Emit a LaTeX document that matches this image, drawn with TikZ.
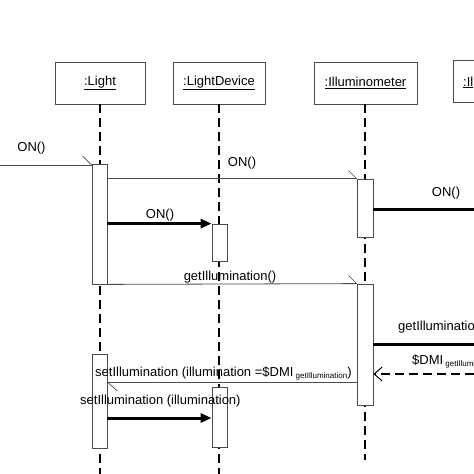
\documentclass[tikz,border=0pt]{standalone}
\usepackage{fontspec}
\setmainfont{Liberation Sans}
\usetikzlibrary{arrows.meta}
\begin{document}
\begin{tikzpicture}[x=1pt,y=-1pt,
  font=\fontsize{13}{15}\selectfont,
  obj/.style={draw=black!70,line width=0.8pt,minimum height=42pt,inner sep=0pt},
  bar/.style={draw=black!70,fill=white,line width=0.8pt,minimum width=15pt,inner sep=0pt},
  lifeline/.style={line width=2.4pt,dash pattern=on 9pt off 5pt},
  msg/.style={draw=black!70,line width=0.8pt},
  tick/.style={draw=black!70,line width=0.7pt},
  callmsg/.style={line width=3pt,-{Triangle[length=11pt,width=9pt]}},
  outmsg/.style={line width=3pt},
  ret/.style={line width=2.4pt,dash pattern=on 9pt off 5pt,-{Straight Barb[length=8pt,width=14pt,line width=1pt]}},
  lbl/.style={anchor=base,inner sep=0pt},
  lblw/.style={anchor=base west,inner sep=0pt},
  sub/.style={}
]
\useasboundingbox (0,0) rectangle (474,474);
\clip (0,0) rectangle (474,474);

% objects
\node[obj,minimum width=90pt] (light) at (100,83) {\underline{:Light}};
\node[obj,minimum width=92pt] (ldev) at (219,83) {\underline{:LightDevice}};
\node[obj,minimum width=103pt] (illum) at (365.5,83) {\underline{:Illuminometer}};
\node[obj,minimum width=90pt,anchor=north west] (obj4) at (453,60) {};
\node[lblw] (obj4t) at (463,86) {\underline{:Il}};

% lifeline ends
\coordinate (lightend) at (100,474);
\coordinate (ldevend) at (219,474);
\coordinate (illumend) at (365,460);
\draw[lifeline] (light.south -| lightend) -- (lightend);
\draw[lifeline] (ldev.south -| ldevend) -- (ldevend);
\draw[lifeline] (illum.south -| illumend) -- (illumend);

% activation bars
\node[bar,minimum height=120pt] (lb1) at (99.5,224) {};
\node[bar,minimum height=37pt] (ldb1) at (219.5,242.5) {};
\node[bar,minimum height=58pt,minimum width=16pt] (ib1) at (365,208) {};
\node[bar,minimum height=121pt,minimum width=16pt] (ib2) at (365,344.5) {};
\node[bar,minimum height=94pt] (lb2) at (99.5,401) {};
\node[bar,minimum height=60pt] (ldb2) at (219.5,417) {};

% free ends
\coordinate (m0s) at (0,165);
\coordinate (m2e) at (474,209);
\coordinate (m5e) at (474,344);
\coordinate (m6s) at (474,374);

% m0: ON() incoming
\draw[msg] (m0s) -- (m0s -| lb1.west);
\draw[tick] (m0s -| lb1.west) -- ++(-9,-9);
\node[lbl] (l0) at (31.5,151) {ON()};

% m1: ON() Light -> Illuminometer
\draw[msg] (lb1.east |- ib1.north) -- (ib1.north west);
\draw[tick] (ib1.north west) -- ++(-8,-8);
\node[lbl] (l1) at (242,166) {ON()};

% m2: ON() Illuminometer -> right
\draw[outmsg] (ib1.east |- m2e) -- (m2e);
\node[lbl] (l2) at (446,196) {ON()};

% m3: ON() Light -> LightDevice
\draw[callmsg] (lb1.east |- ldb1.north) -- (ldb1.north west);
\node[lbl] (l3) at (160,218) {ON()};

% m4: getIllumination()
\draw[msg] (lb1.south east) -- (ib2.north west);
\draw[tick] (ib2.north west) -- ++(-8,-8);
\node[lbl] (l4) at (230,280) {getIllumination()};

% m5: getIllumination to right
\draw[outmsg] (ib2.east |- m5e) -- (m5e);
\node[lblw] (l5) at (398,330) {getIllumination()};

% m6: return
\draw[ret] (m6s) -- (ib2.east |- m6s);
\node[lblw] (l6) at (412,364) {\$DMI\,\raisebox{-2pt}{\fontsize{8}{9}\selectfont getIllumination}};

% m7: setIllumination(illumination=$DMI...)
\coordinate (m7y) at (0,382);
\draw[msg] (ib2.west |- m7y) -- (lb2.east |- m7y);
\draw[tick] (lb2.east |- m7y) -- ++(10,9);
\node[lblw] (l7) at (95,376) {setIllumination (illumination =\$DMI\,\raisebox{-2pt}{\fontsize{8}{9}\selectfont getIllumination})};

% m8: setIllumination(illumination)
\coordinate (m8y) at (0,418);
\draw[callmsg] (lb2.east |- m8y) -- (ldb2.west |- m8y);
\node[lblw] (l8) at (80,404) {setIllumination (illumination)};
\end{tikzpicture}
\end{document}
